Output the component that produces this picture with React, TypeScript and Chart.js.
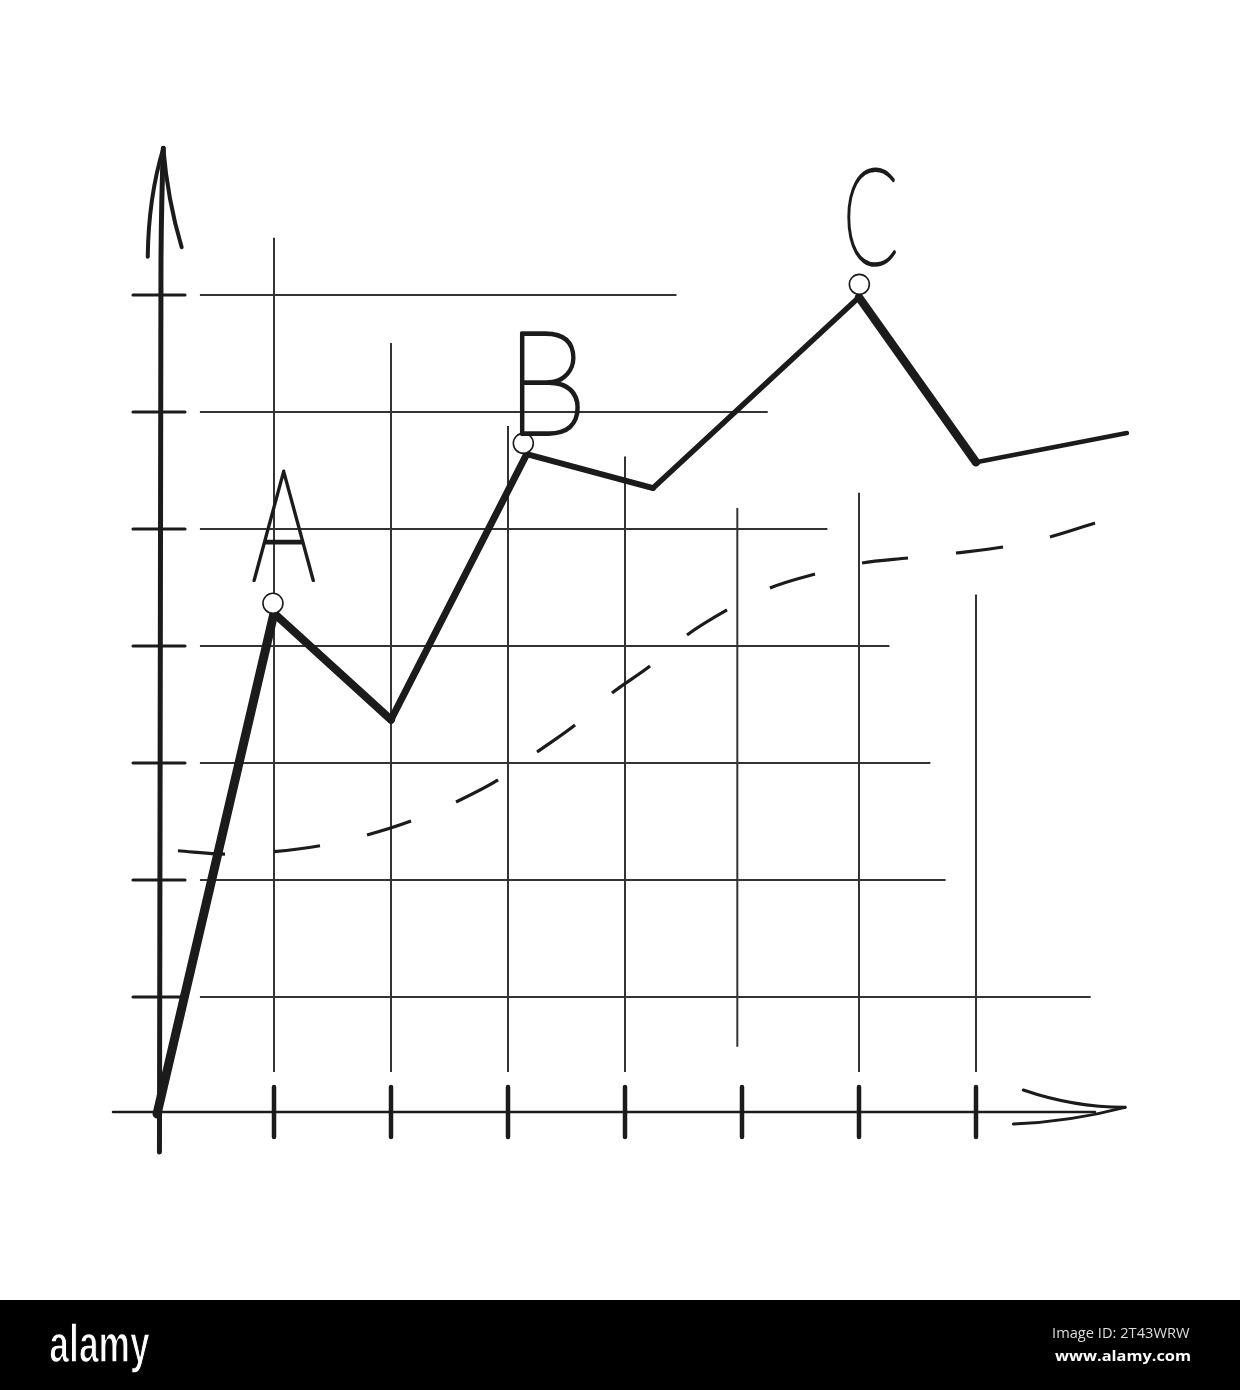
import React, { useEffect, useRef } from "react";
import { Chart, registerables } from "chart.js";

Chart.register(...registerables);

// ---- data (grid units) ----
const mainX = [0, 1, 2, 3.16, 4.24, 6.0, 7.0, 8.29];
const mainY = [0, 4.28, 3.37, 5.64, 5.35, 6.98, 5.57, 5.82];

// dashed trend: start/end of each dash, in pairs
const trendX = [0.179, 0.581, 1.0, 1.393, 1.795, 2.171, 2.556, 2.915, 3.248, 3.573, 3.889, 4.214, 4.53, 4.872, 5.239, 5.624, 6.026, 6.419, 6.829, 7.231, 7.632, 8.017];
const trendY = [2.25, 2.222, 2.242, 2.293, 2.385, 2.504, 2.667, 2.855, 3.094, 3.325, 3.598, 3.829, 4.094, 4.308, 4.496, 4.615, 4.709, 4.752, 4.795, 4.846, 4.932, 5.051];

const markNames = ["A", "B", "C"];
const markX = [0.991, 3.131, 6.003];
const markY = [4.365, 5.732, 7.091];

const gridRows = [1, 2, 3, 4, 5, 6, 7];
const gridRowStart = 0.367;
const gridRowEnd = [7.98, 6.74, 6.61, 6.26, 5.73, 5.22, 4.44];

const gridCols = [1, 2, 3, 4, 4.96, 6, 7];
const gridColTop = [7.49, 6.59, 5.88, 5.62, 5.18, 5.31, 4.44];
const gridColBottom = [0.36, 0.36, 0.36, 0.36, 0.575, 0.36, 0.36];

const xTicks = [1, 2, 3, 4, 5, 6, 7];
const yTicks = [1, 2, 3, 4, 5, 6, 7];

// ---- styles ----
const INK = "#1b1b1b";
const GRID = "#333333";
const segWidths = [9, 8, 7, 6, 5.5, 8.5, 4.5];
// label boxes relative to marker pixel: [left, right, top, baseline]
const labelBoxes = [
  [-21.3, 43, -134, -21.3],
  [-4, 57.4, -111.6, -8.3],
  [-12.6, 37.7, -116, -17.6],
];

function fitText(ctx: CanvasRenderingContext2D, text: string, fontFn: (s: number) => string, left: number, right: number, top: number, base: number, strokeW = 0) {
  ctx.save();
  ctx.font = fontFn(100);
  const m0 = ctx.measureText(text);
  const size = (100 * (base - top)) / m0.actualBoundingBoxAscent;
  ctx.font = fontFn(size);
  const m = ctx.measureText(text);
  const w = m.actualBoundingBoxLeft + m.actualBoundingBoxRight;
  const h = m.actualBoundingBoxAscent;
  ctx.textAlign = "left";
  ctx.textBaseline = "alphabetic";
  ctx.translate(left, base);
  ctx.scale((right - left) / w, (base - top) / h);
  ctx.fillText(text, m.actualBoundingBoxLeft, 0);
  if (strokeW > 0) {
    ctx.lineWidth = strokeW;
    ctx.lineJoin = "round";
    ctx.lineCap = "round";
    ctx.strokeText(text, m.actualBoundingBoxLeft, 0);
  }
  ctx.restore();
}

const sketchPlugin = {
  id: "sketch",
  beforeDatasetsDraw(chart: any) {
    const ctx: CanvasRenderingContext2D = chart.ctx;
    const xs = chart.scales.x;
    const ys = chart.scales.y;
    const px = (v: number) => xs.getPixelForValue(v);
    const py = (v: number) => ys.getPixelForValue(v);
    ctx.save();
    ctx.lineCap = "butt";
    // grid rows
    ctx.strokeStyle = GRID;
    ctx.lineWidth = 2;
    gridRows.forEach((r, i) => {
      ctx.beginPath();
      ctx.moveTo(px(gridRowStart), py(r));
      ctx.lineTo(px(gridRowEnd[i]), py(r));
      ctx.stroke();
    });
    gridCols.forEach((c, i) => {
      ctx.beginPath();
      ctx.moveTo(px(c), py(gridColBottom[i]));
      ctx.lineTo(px(c), py(gridColTop[i]));
      ctx.stroke();
    });
    // y ticks
    ctx.strokeStyle = INK;
    ctx.lineCap = "round";
    ctx.lineWidth = 3.2;
    yTicks.forEach((t) => {
      ctx.beginPath();
      ctx.moveTo(px(-0.205), py(t));
      ctx.lineTo(px(0.239), py(t));
      ctx.stroke();
    });
    // x ticks
    ctx.lineWidth = 4.5;
    xTicks.forEach((t) => {
      ctx.beginPath();
      ctx.moveTo(px(t), py(0.231));
      ctx.lineTo(px(t), py(-0.197));
      ctx.stroke();
    });
    // y axis with arrow
    ctx.lineWidth = 5;
    ctx.beginPath();
    ctx.moveTo(px(0.021), py(-0.325));
    ctx.lineTo(px(0.034), py(7.299));
    ctx.quadraticCurveTo(px(0.038), py(7.812), px(0.054), py(8.254));
    ctx.stroke();
    ctx.lineWidth = 4;
    ctx.beginPath();
    ctx.moveTo(px(0.054), py(8.254));
    ctx.quadraticCurveTo(px(-0.073), py(7.833), px(-0.079), py(7.327));
    ctx.stroke();
    ctx.beginPath();
    ctx.moveTo(px(0.054), py(8.254));
    ctx.quadraticCurveTo(px(0.09), py(7.812), px(0.211), py(7.408));
    ctx.stroke();
    // x axis with arrow
    ctx.lineWidth = 2.5;
    ctx.beginPath();
    ctx.moveTo(px(-0.376), py(0.017));
    ctx.lineTo(px(8.017), py(0.017));
    ctx.stroke();
    ctx.lineWidth = 3;
    ctx.beginPath();
    ctx.moveTo(px(7.404), py(0.205));
    ctx.quadraticCurveTo(px(7.838), py(0.056), px(8.274), py(0.057));
    ctx.stroke();
    ctx.beginPath();
    ctx.moveTo(px(7.319), py(-0.085));
    ctx.quadraticCurveTo(px(7.795), py(-0.068), px(8.274), py(0.057));
    ctx.stroke();
    ctx.restore();
  },
  afterDatasetsDraw(chart: any) {
    const ctx: CanvasRenderingContext2D = chart.ctx;
    const xs = chart.scales.x;
    const ys = chart.scales.y;
    ctx.save();
    ctx.fillStyle = INK;
    ctx.strokeStyle = INK;
    markNames.forEach((n, i) => {
      const cx = xs.getPixelForValue(markX[i]);
      const cy = ys.getPixelForValue(markY[i]);
      const b = labelBoxes[i];
      fitText(ctx, n, (s) => `100 ${s}px Lato`, cx + b[0] + 1.5, cx + b[1] - 1.5, cy + b[2] + 1.5, cy + b[3] - 1.5, 3.2);
    });
    ctx.restore();
  },
  afterDraw(chart: any) {
    const ctx: CanvasRenderingContext2D = chart.ctx;
    const top = chart.chartArea.bottom;
    const W = chart.width;
    const H = chart.height;
    ctx.save();
    ctx.fillStyle = "#000";
    ctx.fillRect(0, top, W, H - top);
    ctx.fillStyle = "#ffffff";
    fitText(ctx, "alamy", (s) => `bold ${s}px 'Liberation Sans Narrow', 'Liberation Sans', sans-serif`, 50, 150, top + 23, top + 62, 1.5);
    ctx.fillStyle = "#dddddd";
    fitText(ctx, "Image ID: 2T43WRW", (s) => `${s}px 'Open Sans', sans-serif`, 1053, 1190, top + 26.7, top + 38.3);
    ctx.fillStyle = "#ffffff";
    fitText(ctx, "www.alamy.com", (s) => `bold ${s}px 'Open Sans', sans-serif`, 1055, 1190, top + 49.3, top + 61);
    ctx.restore();
  },
};

export default function App() {
  const ref = useRef<HTMLCanvasElement | null>(null);
  useEffect(() => {
    if (!ref.current) return;
    const unit = 117;
    const x0 = 157;
    const y0 = 1114;
    const plotW = 1240;
    const plotH = 1300;
    const chart = new Chart(ref.current, {
      type: "line",
      data: {
        datasets: [
          {
            label: "points",
            data: markX.map((x, i) => ({ x, y: markY[i] })),
            showLine: false,
            pointRadius: 10,
            pointHoverRadius: 10,
            pointBackgroundColor: "#ffffff",
            pointBorderColor: INK,
            pointBorderWidth: 1.6,
            order: 0,
          } as any,
          {
            label: "main",
            data: mainX.map((x, i) => ({ x, y: mainY[i] })),
            borderColor: INK,
            borderWidth: 6,
            borderJoinStyle: "round",
            borderCapStyle: "round",
            pointRadius: 0,
            tension: 0,
            fill: false,
            segment: {
              borderWidth: (c: any) => segWidths[c.p0DataIndex],
            },
            order: 1,
          } as any,
          {
            label: "trend",
            data: trendX.map((x, i) => ({ x, y: trendY[i] })),
            borderColor: INK,
            borderWidth: 3.2,
            borderCapStyle: "butt",
            pointRadius: 0,
            cubicInterpolationMode: "monotone",
            fill: false,
            segment: {
              borderColor: (c: any) => (c.p0DataIndex % 2 === 0 ? INK : "rgba(0,0,0,0)"),
            },
            order: 2,
          } as any,
        ],
      },
      options: {
        animation: false,
        responsive: false,
        devicePixelRatio: 1,
        layout: { autoPadding: false, padding: { left: 0, right: 0, top: 0, bottom: 90 } },
        events: [],
        scales: {
          x: { type: "linear", display: false, min: -x0 / unit, max: (plotW - x0) / unit },
          y: { type: "linear", display: false, min: -(plotH - y0) / unit, max: y0 / unit },
        },
        plugins: {
          legend: { display: false },
          tooltip: { enabled: false },
        },
      } as any,
      plugins: [sketchPlugin],
    });
    return () => chart.destroy();
  }, []);
  return (
    <div style={{ position: "absolute", left: 0, top: 0, width: 1240, height: 1390, background: "#fff" }}>
      <canvas ref={ref} width={1240} height={1390} style={{ display: "block", width: 1240, height: 1390 }} />
    </div>
  );
}
